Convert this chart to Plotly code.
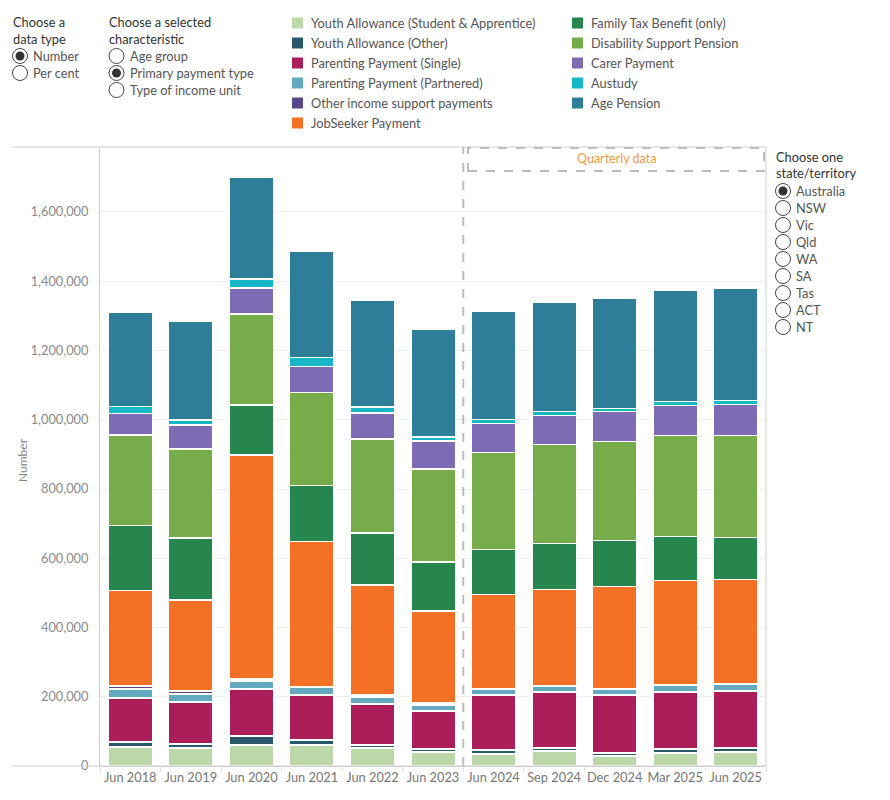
import plotly.graph_objects as go

categories = ["Jun 2018", "Jun 2019", "Jun 2020", "Jun 2021", "Jun 2022", "Jun 2023",
              "Jun 2024", "Sep 2024", "Dec 2024", "Mar 2025", "Jun 2025"]

ya_student = [54900, 52000, 60600, 60600, 52000, 40400, 34700, 43300, 28900, 37500, 40400]
ya_other = [14400, 11600, 26000, 14400, 8700, 8700, 11600, 8700, 8700, 11600, 11600]
pp_single = [127000, 121300, 135700, 130000, 118400, 109700, 158800, 161700, 167500, 164600, 164600]
pp_partnered = [26000, 23100, 23100, 23100, 20200, 17300, 17300, 17300, 17300, 20200, 20200]
other_income = [8700, 8700, 5800, 2000, 5800, 5800, 1000, 1000, 1000, 1000, 1000]
jobseeker = [277000, 262800, 646900, 418800, 317700, 265700, 271500, 277200, 294600, 300400, 300400]
ftb = [187700, 179000, 144400, 161700, 150200, 141500, 130000, 132800, 132800, 127100, 121300]
dsp = [260000, 257000, 262800, 268600, 271500, 268600, 280100, 285900, 285900, 291700, 294600]
carer = [63500, 69300, 75100, 75100, 75100, 80900, 83800, 83800, 86600, 86600, 89500]
austudy = [20200, 14400, 26000, 26000, 17300, 11600, 11600, 11600, 8700, 11600, 11600]
age_pension = [271500, 285900, 294600, 306100, 309000, 311900, 311900, 314800, 317700, 320600, 323500]

series_names = ["Youth Allowance (Student & Apprentice)", "Youth Allowance (Other)",
                "Parenting Payment (Single)", "Parenting Payment (Partnered)",
                "Other income support payments", "JobSeeker Payment",
                "Family Tax Benefit (only)", "Disability Support Pension",
                "Carer Payment", "Austudy", "Age Pension"]
series_values = [ya_student, ya_other, pp_single, pp_partnered, other_income, jobseeker,
                 ftb, dsp, carer, austudy, age_pension]
series_colors = ["#BDD8A8", "#28586A", "#AB1E59", "#63A9C0", "#58478A", "#F37024",
                 "#27864E", "#76AD4A", "#7D6BB4", "#16B8C6", "#2E7E99"]

data_types = ["Number", "Per cent"]
characteristics = ["Age group", "Primary payment type", "Type of income unit"]
states = ["Australia", "NSW", "Vic", "Qld", "WA", "SA", "Tas", "ACT", "NT"]

FONT = "Lato"
PL, PR, PT, PB = 100, 766, 147, 766
W, H = 890, 800


def px(x):
    return (x - PL) / (PR - PL)


def py(y):
    return (PB - y) / (PB - PT)


fig = go.Figure()
for name, vals, col in zip(series_names, series_values, series_colors):
    fig.add_trace(go.Bar(x=categories, y=vals, name=name, marker_color=col,
                         marker_line_color="white", marker_line_width=1.2,
                         width=0.73, showlegend=False))

shapes = []
annotations = []

# frame lines
shapes.append(dict(type="line", xref="paper", yref="paper", x0=px(12), x1=px(766),
                   y0=1, y1=1, line=dict(color="#cfcfcf", width=1)))
shapes.append(dict(type="line", xref="paper", yref="paper", x0=px(12), x1=px(766),
                   y0=0, y1=0, line=dict(color="#cfcfcf", width=1)))
shapes.append(dict(type="line", xref="paper", yref="paper", x0=1, x1=1,
                   y0=0, y1=1, line=dict(color="#cfcfcf", width=1)))

# quarterly divider
shapes.append(dict(type="line", xref="x", yref="paper", x0=5.5, x1=5.5, y0=0, y1=1,
                   line=dict(color="#bdbdbd", width=2, dash="dash")))
shapes.append(dict(type="rect", xref="paper", yref="paper", x0=px(468), x1=px(764),
                   y0=py(171), y1=py(148), line=dict(color="#bdbdbd", width=2, dash="dash")))
annotations.append(dict(text="Quarterly data", xref="paper", yref="paper", x=px(616), y=py(158),
                        showarrow=False, font=dict(family=FONT, size=12.5, color="#F39A3E"),
                        xanchor="center", yanchor="middle"))

# y axis title
annotations.append(dict(text="Number", xref="paper", yref="paper", x=px(22), y=py(460),
                        showarrow=False, textangle=-90, xanchor="center", yanchor="middle",
                        font=dict(family=FONT, size=12, color="#888888")))

# legend (two columns)
leg_rows = [23, 43, 63, 83, 103, 123]
for i, (name, col) in enumerate(zip(series_names, series_colors)):
    if i < 6:
        sx, ry = 292, leg_rows[i]
    else:
        sx, ry = 572, leg_rows[i - 6]
    shapes.append(dict(type="rect", xref="paper", yref="paper", x0=px(sx), x1=px(sx + 11),
                       y0=py(ry + 5.5), y1=py(ry - 5.5), fillcolor=col, line=dict(width=0)))
    annotations.append(dict(text=name, xref="paper", yref="paper", x=px(sx + 17), y=py(ry),
                            showarrow=False, xanchor="left", yanchor="middle",
                            font=dict(family=FONT, size=12.8, color="#555555")))


def radio(cx, cy, label, selected, r=7.5):
    shapes.append(dict(type="circle", xref="paper", yref="paper",
                       x0=px(cx - r), x1=px(cx + r), y0=py(cy + r), y1=py(cy - r),
                       fillcolor="white", line=dict(color="#444444", width=1)))
    if selected:
        ri = 4.5
        shapes.append(dict(type="circle", xref="paper", yref="paper",
                           x0=px(cx - ri), x1=px(cx + ri), y0=py(cy + ri), y1=py(cy - ri),
                           fillcolor="#333333", line=dict(width=0)))
    annotations.append(dict(text=label, xref="paper", yref="paper", x=px(cx + 11), y=py(cy),
                            showarrow=False, xanchor="left", yanchor="middle",
                            font=dict(family=FONT, size=12.8, color="#555555")))


def title(x, y, text):
    annotations.append(dict(text=text, xref="paper", yref="paper", x=px(x), y=py(y),
                            showarrow=False, xanchor="left", yanchor="middle",
                            font=dict(family=FONT, size=12.8, color="#333333")))


title(11, 22, "Choose a")
title(11, 39, "data type")
for i, lab in enumerate(data_types):
    radio(20, 56 + 17 * i, lab, i == 0)

title(107, 22, "Choose a selected")
title(107, 39, "characteristic")
for i, lab in enumerate(characteristics):
    radio(116.5, 56 + 17 * i, lab, i == 1)

title(774, 157, "Choose one")
title(774, 173, "state/territory")
for i, lab in enumerate(states):
    radio(783, 191 + 17 * i, lab, i == 0)

fig.update_layout(
    width=W, height=H, barmode="stack",
    margin=dict(l=PL, r=W - PR, t=PT, b=H - PB, pad=0, autoexpand=False),
    plot_bgcolor="white", paper_bgcolor="white",
    font=dict(family=FONT, size=12, color="#888888"),
    shapes=shapes, annotations=annotations, showlegend=False, bargap=0.27,
)
fig.update_xaxes(type="category", categoryorder="array", categoryarray=categories,
                 range=[-0.5, 10.5], showgrid=False, showline=True, linecolor="#cfcfcf",
                 ticks="outside", tickson="boundaries", ticklen=5, tickcolor="#e0e0e0",
                 tickangle=0, automargin=False,
                 tickfont=dict(family=FONT, size=12.8, color="#777777"))
fig.update_yaxes(range=[0, 1787700], dtick=200000, tickformat=",d", showgrid=True,
                 gridcolor="#efefef", gridwidth=1, showline=True, linecolor="#cfcfcf",
                 zeroline=False, ticks="", ticklabelstandoff=8, automargin=False,
                 tickfont=dict(family=FONT, size=12.8, color="#8a8a8a"))

fig.write_html("out.html")
